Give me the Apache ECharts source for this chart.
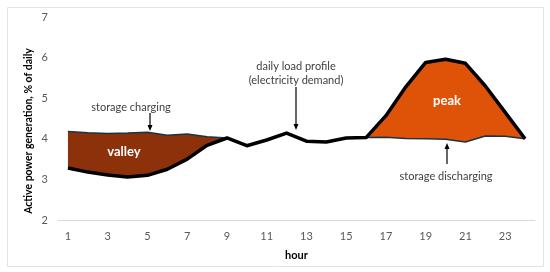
<!DOCTYPE html>
<html>
<head>
<meta charset="utf-8">
<script src="https://cdn.jsdelivr.net/npm/echarts@6/dist/echarts.min.js"></script>
<style>html,body{margin:0;padding:0;background:#fff}#c{width:550px;height:272px}</style>
</head>
<body>
<div id="c"></div>
<script>
const hours = ['1','2','3','4','5','6','7','8','9','10','11','12','13','14','15','16','17','18','19','20','21','22','23','24'];
const load = [3.28, 3.18, 3.11, 3.06, 3.10, 3.25, 3.50, 3.84, 4.02, 3.83, 3.97, 4.14, 3.94, 3.92, 4.02, 4.03, 4.57, 5.28, 5.88, 5.96, 5.86, 5.30, 4.65, 4.00];
const charging = [4.18, 4.15, 4.13, 4.14, 4.16, 4.09, 4.12, 4.05, 4.02, null, null, null, null, null, null, null, null, null, null, null, null, null, null, null];
const discharging = [null, null, null, null, null, null, null, null, null, null, null, null, null, null, null, 4.03, 4.04, 4.01, 4.00, 3.99, 3.92, 4.07, 4.06, 4.00];
const yTicks = [2, 7, 1];

const valleyBase = load.map((v, i) => charging[i] == null ? '-' : v);
const valleyDiff = load.map((v, i) => charging[i] == null ? '-' : +(charging[i] - v).toFixed(3));
const peakBase = discharging.map(v => v == null ? '-' : v);
const peakDiff = load.map((v, i) => discharging[i] == null ? '-' : +(v - discharging[i]).toFixed(3));

const FONT = 'Lato';
const chart = echarts.init(document.getElementById('c'), null, {renderer: 'canvas'});

function arrow(x, y1, y2) {
  const dir = y2 > y1 ? 1 : -1;
  return [
    {type: 'line', shape: {x1: x, y1: y1, x2: x, y2: y2 - dir * 4}, style: {stroke: '#000', lineWidth: 1.2}, z: 100},
    {type: 'polygon', shape: {points: [[x - 2.5, y2 - dir * 6], [x + 2.5, y2 - dir * 6], [x, y2]]}, style: {fill: '#000'}, z: 100}
  ];
}
function txt(x, y, t, opts) {
  return Object.assign({type: 'text', x: x, y: y, z: 100, style: Object.assign({text: t, fill: '#404040', font: '11px ' + FONT, textAlign: 'center', textVerticalAlign: 'middle'}, opts || {})});
}

chart.setOption({
  animation: false,
  grid: {left: 58, right: 15, top: 17, bottom: 52},
  xAxis: {
    type: 'category', data: hours, boundaryGap: true,
    name: 'hour', nameLocation: 'middle', nameGap: 30,
    nameTextStyle: {fontFamily: FONT, fontSize: 11, fontWeight: 'bold', color: '#000'},
    axisLine: {show: true, lineStyle: {color: '#d9d9d9', width: 1}},
    axisTick: {show: false},
    axisLabel: {interval: 1, fontFamily: FONT, fontSize: 11, color: '#595959', margin: 11}
  },
  yAxis: {
    type: 'value', min: yTicks[0], max: yTicks[1], interval: yTicks[2],
    axisLine: {show: false}, axisTick: {show: false}, splitLine: {show: false},
    axisLabel: {fontFamily: FONT, fontSize: 11, color: '#595959', margin: 10}
  },
  series: [
    {type: 'line', data: valleyBase, stack: 'valley', symbol: 'none', lineStyle: {width: 0, opacity: 0}, z: 1},
    {type: 'line', data: valleyDiff, stack: 'valley', symbol: 'none', lineStyle: {width: 0, opacity: 0}, areaStyle: {color: '#8c310a', opacity: 1}, z: 1},
    {type: 'line', data: peakBase, stack: 'peak', symbol: 'none', lineStyle: {width: 0, opacity: 0}, z: 1},
    {type: 'line', data: peakDiff, stack: 'peak', symbol: 'none', lineStyle: {width: 0, opacity: 0}, areaStyle: {color: '#df5308', opacity: 1}, z: 1},
    {type: 'line', data: charging, symbol: 'none', connectNulls: false, lineStyle: {color: '#1b3444', width: 1.5}, z: 3},
    {type: 'line', data: discharging, symbol: 'none', connectNulls: false, lineStyle: {color: '#1b3444', width: 1.5}, z: 3},
    {type: 'line', data: load, symbol: 'none', lineStyle: {color: '#000', width: 3.5, join: 'round'}, z: 4}
  ],
  graphic: [
    {type: 'rect', shape: {x: 7.5, y: 7.5, width: 536, height: 259}, style: {fill: 'none', stroke: '#e3e3e3', lineWidth: 1}, z: 0, silent: true},
    {type: 'text', x: 29, y: 131, rotation: Math.PI / 2, z: 100,
     style: {text: 'Active power generation, % of daily', fill: '#000', font: 'bold 10.5px ' + FONT, textAlign: 'center', textVerticalAlign: 'middle'}},
    txt(131, 107, 'storage charging'),
    ...arrow(150, 113, 131),
    txt(124, 152, 'valley', {fill: '#fff', font: 'bold 13px ' + FONT}),
    txt(296, 66, 'daily load profile'),
    txt(296, 80, '(electricity demand)'),
    ...arrow(296, 87, 130),
    txt(447, 101, 'peak', {fill: '#fff', font: 'bold 13px ' + FONT}),
    ...arrow(447, 164, 143),
    txt(446, 176, 'storage discharging')
  ]
});
</script>
</body>
</html>
